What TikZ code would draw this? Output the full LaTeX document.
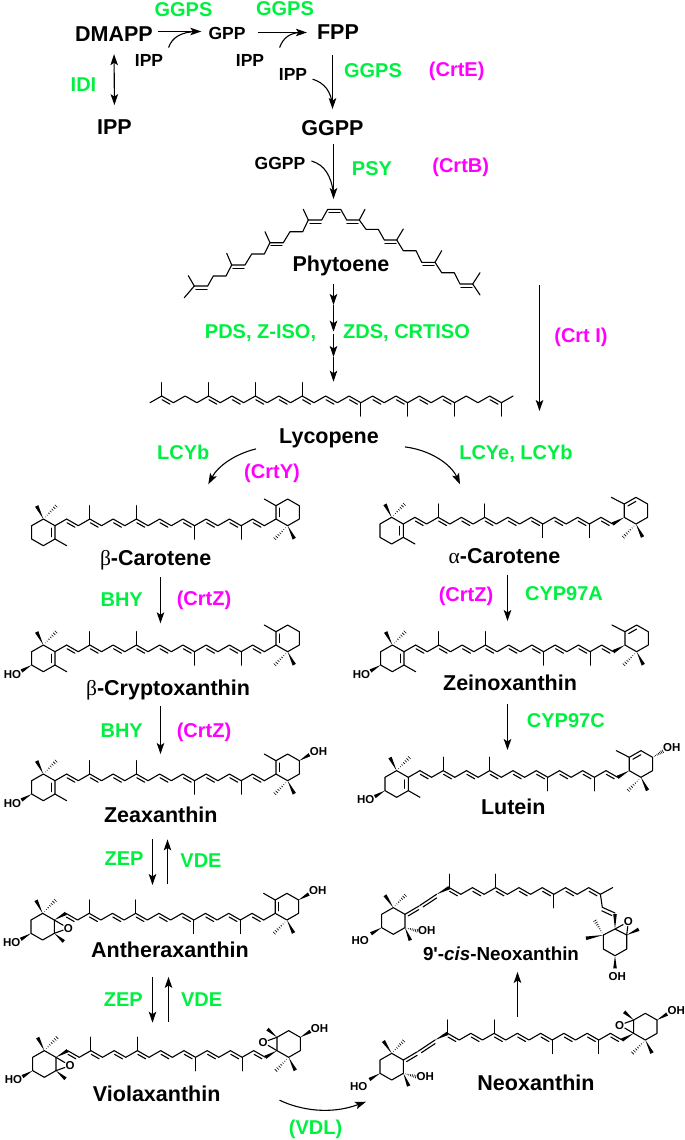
\documentclass[tikz,border=0pt]{standalone}
\usepackage{xcolor}
\usepackage{fontspec}
\usepackage{tikz}
\usetikzlibrary{arrows.meta,positioning,calc}
\setmainfont{Liberation Sans}
\newfontfamily\greekfont{Liberation Serif}
\newfontfamily\primefont{Liberation Sans}
\definecolor{enzgreen}{HTML}{00F040}
\definecolor{crtmagenta}{HTML}{FF00FF}
\newcommand{\zx}{11.63}
\newcommand{\zy}{6.67}
\newcommand{\zigzag}[5]{%
  \draw[bond] ({#1*\zx},{-\zy*mod(#1,2)}) \foreach \i in {#1,...,#2} {-- ({\i*\zx},{-\zy*mod(\i,2)})};
  \foreach \i in {#3} {\ifnum\i<#1\relax\else\draw[bond] ({\i*\zx+.4},{-\zy+3.7}) -- ({(\i+1)*\zx-3.4},1.5);\fi}
  \foreach \i in {#4} {\draw[bond] ({\i*\zx},-\zy) -- ++(0,-13.5);}
  \foreach \i in {#5} {\draw[bond] ({\i*\zx},0) -- ++(0,13.5);}
}
\newcommand{\wedgebond}[4]{%
  \pgfmathsetmacro{\wbl}{veclen((#3)-(#1),(#4)-(#2))}%
  \pgfmathsetmacro{\wbx}{1.8*((#2)-(#4))/\wbl}%
  \pgfmathsetmacro{\wby}{1.8*((#3)-(#1))/\wbl}%
  \fill (#1,#2) -- ({(#3)+\wbx},{(#4)+\wby}) -- ({(#3)-\wbx},{(#4)-\wby}) -- cycle;
}
\newcommand{\hashbond}[4]{%
  \pgfmathsetmacro{\wbl}{veclen((#3)-(#1),(#4)-(#2))}%
  \pgfmathsetmacro{\wbx}{1.8*((#2)-(#4))/\wbl}%
  \pgfmathsetmacro{\wby}{1.8*((#3)-(#1))/\wbl}%
  \foreach \hs in {.16,.3,.44,.58,.72,.86,1} {
    \draw[line width=.6pt] ({(#1)+\hs*((#3)-(#1))+\hs*\wbx},{(#2)+\hs*((#4)-(#2))+\hs*\wby})
      -- ({(#1)+\hs*((#3)-(#1))-\hs*\wbx},{(#2)+\hs*((#4)-(#2))-\hs*\wby});
  }
}
\newcommand{\cyring}{%
  \draw[bond] (0,0) -- (-11.67,-6.67) -- (-23.33,0) -- (-23.33,13.33) -- (-11.67,20) -- (0,13.33) -- cycle;
  \wedgebond{-11.67}{-6.67}{-18.3}{-19.7}
  \hashbond{-11.67}{-6.67}{1}{-19.7}
}
\newcommand{\carot}[4][1]{%
  \begin{scope}[shift={(#2,#3)},scale=#1]
    \pic {polyene=1};
    #4
  \end{scope}
}
\tikzset{
  bond/.style={line width=1.1pt,line join=round,line cap=round},
  rightend/.style={shift={(220.97,-6.67)},rotate=180},
  pics/polyene/.style={code={\zigzag{#1}{18}{1,3,...,17}{3,7}{12,16}}},
  pics/betaring/.style={code={
    \cyring
    \draw[bond] (-3.5,2.5) -- (-3.5,11);
    \draw[bond] (0,13.33) -- (11.67,20);
    \draw[bond] (0,0) -- (11.63,-6.67);
  }},
  pics/epsring/.style={code={
    \cyring
    \draw[bond] (-3.66,11.43) -- (-11.53,15.9);
    \draw[bond] (0,13.33) -- (13,20);
    \wedgebond{0}{0}{11.63}{-6.67}
  }},
  pics/epoxyring/.style={code={
    \cyring
    \wedgebond{0}{0}{11.63}{-6.67}
    \wedgebond{0}{13.33}{9.5}{21.5}
    \node[atomlab] (epo) at (14,8.3) {O};
    \draw[bond] (0,0) -- (epo);
    \draw[bond] (0,13.33) -- (epo);
  }},
  pics/hoend/.style={code={
    \wedgebond{-23.33}{13.33}{-33.5}{19.3}
    \node[atomlab] (oh) at (-42.5,22.5) {#1};
  }},
  pics/hohash/.style={code={
    \hashbond{-23.33}{13.33}{-33.5}{19.3}
    \node[atomlab] (oh) at (-42.5,23) {#1};
  }},
  pics/allenering/.style={code={
    \draw[bond] (-9.33,20) -- (-21,13.33) -- (-32.67,20) -- (-32.67,33.33) -- (-21,40) -- (-9.33,33.33) -- cycle;
    \wedgebond{-21}{13.33}{-29.3}{1}
    \hashbond{-21}{13.33}{-9}{1}
    \wedgebond{-32.67}{33.33}{-43.3}{39.5}
    \node[atomlab] (ho) at (-54,46.5) {HO};
    \wedgebond{-9.33}{33.33}{-4}{46}
    \hashbond{-9.33}{33.33}{3}{36.5}
    \node[atomlab] (oh) at (12.5,36.5) {OH};
    \draw[bond] (-9.33,20) -- (4.7,11.7);
    \draw[bond] (-6.1,21.6) -- (4.5,15.3);
    \draw[bond] (5.5,11.2) -- (22.3,0);
    \draw[bond] (8.8,12.6) -- (22.4,3.6);
    \wedgebond{22.3}{0}{34.89}{-6.67}
  }}
}
\begin{document}
\begin{tikzpicture}[
  x=1pt,y=-1pt,
  cmpd/.style={font=\fontsize{21.5}{24}\selectfont\bfseries,inner sep=1pt,text height=15.4pt,text depth=0pt},
  cofactor/.style={font=\fontsize{17.5}{20}\selectfont\bfseries,inner sep=1pt,text height=12.5pt,text depth=0pt},
  enz/.style={font=\fontsize{20}{24}\selectfont\bfseries,text=enzgreen,inner sep=1pt,text height=14.3pt,text depth=0pt},
  crt/.style={enz,text=crtmagenta},
  atomlab/.style={font=\fontsize{11.5}{14}\selectfont\bfseries,inner sep=.5pt,text height=8.2pt,text depth=0pt},
  arrow/.style={-{Stealth[length=11pt,width=7.5pt,inset=2.5pt]},line width=1.1pt},
  biarrow/.style={{Stealth[length=11pt,width=7.5pt,inset=2.5pt]}-{Stealth[length=11pt,width=7.5pt,inset=2.5pt]},line width=1.1pt},
  joinline/.style={line width=1.1pt}
]
\useasboundingbox (0,0) rectangle (685,1140);

\node[cmpd] (dmapp) at (114,34.3) {DMAPP};
\node[cmpd] (ipp) at (114.5,127) {IPP};
\node[cofactor] (gpp) at (227,33.3) {GPP};
\node[cmpd] (fpp) at (338,32) {FPP};
\node[cmpd] (ggpp) at (332.5,128) {GGPP};
\node[cofactor] (ipp1) at (149,60.5) {IPP};
\node[cofactor] (ipp2) at (250,60.5) {IPP};
\node[cofactor] (ipp3) at (293,74) {IPP};
\node[cofactor] (ggpp2) at (280,163) {GGPP};
\node[cmpd] (phy) at (341,264) {Phytoene};
\node[cmpd] (lyc) at (329,436) {Lycopene};
\node[cmpd] (bcar) at (155.7,558) {{\greekfont\mdseries β}-Carotene};
\node[cmpd] (bcry) at (168,688) {{\greekfont\mdseries β}-Cryptoxanthin};
\node[cmpd] (zea) at (160.8,815) {Zeaxanthin};
\node[cmpd] (anth) at (170,950) {Antheraxanthin};
\node[cmpd] (viol) at (156.7,1094) {Violaxanthin};
\node[cmpd] (acar) at (504.5,555.7) {{\greekfont\mdseries α}-Carotene};
\node[cmpd] (zein) at (510,682.7) {Zeinoxanthin};
\node[cmpd] (lut) at (513.3,806.7) {Lutein};
\node[cmpd,font=\fontsize{18.8}{22}\selectfont\bfseries,text height=13.5pt] (cisneo) at (501,954) {9{\primefont\bfseries '}-\textit{cis}-Neoxanthin};
\node[cmpd] (neo) at (536,1083) {Neoxanthin};

\node[enz] (ggps1) at (183.5,9) {GGPS};
\node[enz] (ggps2) at (285,8.5) {GGPS};
\node[enz] (idi) at (83.5,84.5) {IDI};
\node[enz] (ggps3) at (373,70) {GGPS};
\node[enz] (psy) at (372,168) {PSY};
\node[crt] (crte) at (456.7,69) {(CrtE)};
\node[crt] (crtb) at (460.7,165) {(CrtB)};
\node[enz] (pds) at (260.5,331) {PDS, Z-ISO,};
\node[enz] (zds) at (406.5,331) {ZDS, CRTISO};
\node[crt] (crti) at (581,335) {(Crt I)};
\node[enz] (lcyb) at (183.3,452.3) {LCYb};
\node[crt] (crty) at (272,471.7) {(CrtY)};
\node[enz] (lcye) at (516,452.3) {LCYe, LCYb};
\node[enz] (bhy1) at (121.7,599.3) {BHY};
\node[crt] (crtz1) at (204,598.3) {(CrtZ)};
\node[crt] (crtz2) at (466,594) {(CrtZ)};
\node[enz] (cypa) at (564,593) {CYP97A};
\node[enz] (bhy2) at (121.7,730) {BHY};
\node[crt] (crtz3) at (204,730) {(CrtZ)};
\node[enz] (cypc) at (565.8,720) {CYP97C};
\node[enz] (zep1) at (124,858.3) {ZEP};
\node[enz] (vde1) at (201,860.7) {VDE};
\node[enz] (zep2) at (123.3,999.3) {ZEP};
\node[enz] (vde2) at (201.7,999.3) {VDE};
\node[enz] (vdl) at (315.5,1127.7) {(VDL)};

\draw[bond] (184.3,297.7) -- (194.3,286) -- (188.3,275.7);
\draw[bond] (194.3,286) -- (207.7,286) -- (213.3,276) -- (226,276) -- (231.7,265) -- (245,265) -- (251.7,254) -- (264.3,254)
  -- (270,242.7) -- (283.3,242.7) -- (290,231.7) -- (302.7,231.7) -- (308.3,220) -- (321.7,220) -- (327.7,209.3) -- (340.7,209.3)
  -- (346.7,220) -- (359.3,220) -- (366,229.3) -- (378.3,229.3) -- (384.3,240) -- (396.7,240) -- (403.3,250.7) -- (416,250.7)
  -- (421.7,262.3) -- (435,262.3) -- (441.7,272.7) -- (454.3,272.7) -- (460,284) -- (472.7,284) -- (480,272.7);
\draw[bond] (472.7,284) -- (480,295);
\foreach \a/\b/\c in {196/207/286,233/244/265,271/282/242.7,310/321/220,329/340/209.3,347/358/220,385/396/240,423/434/262.3,461/472/284}
  \draw[bond] (\a,\c+3.2) -- (\b,\c+3.2);
\foreach \a/\b/\c/\d in {231.7/265/226.7/253.3,270/242.7/265/231.7,308.3/220/303.3/209.3,359.3/220/365/209.3,396.7/240/403.3/229,435/262.3/441.7/250.7}
  \draw[bond] (\a,\b) -- (\c,\d);

\begin{scope}[shift={(150,402.7)},xscale=1.007]
  \zigzag{0}{31}{1,5,7,9,11,13,15,17,19,21,23,25,29}{1,5,9,13}{18,22,26,30}
\end{scope}

\carot{55}{525.7}{\pic {betaring}; \pic[rightend] {betaring};}
\carot{55}{651.7}{\pic {betaring}; \pic {hoend=HO}; \pic[rightend] {betaring};}
\carot{55}{780.7}{\pic {betaring}; \pic {hoend=HO}; \pic[rightend] {betaring}; \pic[rightend] {hoend=OH};}
\carot{54.3}{920}{\pic {epoxyring}; \pic {hoend=HO}; \pic[rightend] {betaring}; \pic[rightend] {hoend=OH};}
\carot{56}{1057.3}{\pic {epoxyring}; \pic {hoend=HO}; \pic[rightend] {epoxyring}; \pic[rightend] {hoend=OH};}
\carot[.962]{403.3}{524}{\pic {betaring}; \pic[rightend] {epsring};}
\carot[.962]{404}{651.7}{\pic {betaring}; \pic {hoend=HO}; \pic[rightend] {epsring};}
\carot[.962]{408.3}{777.3}{\pic {betaring}; \pic {hoend=HO}; \pic[rightend] {epsring}; \pic[rightend] {hohash=OH};}

\begin{scope}[shift={(412.7,1040)}]
  \pic {polyene=3};
  \pic {allenering};
  \pic[rightend] {epoxyring};
  \pic[rightend] {hoend=OH};
\end{scope}

\begin{scope}[shift={(414.3,894.3)}]
  \zigzag{3}{16}{3,5,...,15}{3,7}{12}
  \pic {allenering};
  \draw[bond] (186.1,0) -- (198.4,-6.7);
  \draw[bond] (186.1,0) -- (188,13) -- (200.7,18.7);
  \draw[bond] (187.5,16.5) -- (197.5,21.2);
\end{scope}
\draw[bond] (615,929) -- (626.7,935) -- (626.7,949) -- (615,955.7) -- (603.3,949) -- (603.3,935) -- cycle;
\wedgebond{615}{929}{615}{914}
\wedgebond{603.3}{935}{586}{938.3}
\hashbond{603.3}{935}{595}{920.7}
\wedgebond{626.7}{935}{638.7}{929.3}
\wedgebond{615}{955.7}{615}{968.3}
\node[atomlab] (cisoh) at (617.3,976) {OH};
\node[atomlab] (ciso) at (628.3,921.7) {O};
\draw[bond] (615,929) -- (ciso);
\draw[bond] (626.7,935) -- (ciso);

\coordinate (j1) at (197,31.5);
\coordinate (j2) at (302,32.5);
\coordinate (j3) at (332.5,105);
\coordinate (j4) at (333.5,193);
\coordinate (phyin) at (333.5,199);
\coordinate (ci0) at (539.5,285);
\coordinate (ci1) at (539.5,411);
\coordinate (bcarin) at (208.3,484.3);
\coordinate (acarin) at (460,484.3);
\coordinate (bcryin) at (160.5,623.3);
\coordinate (zeain) at (160.5,754);
\coordinate (anthin) at (152.5,885);
\coordinate (anthout) at (167.5,884.3);
\coordinate (violin) at (152.5,1022.7);
\coordinate (violout) at (168.5,1021.7);
\coordinate (zeinin) at (507.5,621);
\coordinate (lutin) at (507.5,750);
\coordinate (neoout) at (517.5,1016.7);
\coordinate (neoin) at (366,1101.7);
\foreach \i/\y in {1/305,2/331.7,3/357,4/381.7}
  \coordinate (s\i) at (333.5,\y);

\draw[arrow,shorten <=4pt,shorten >=6pt] (dmapp.east |- j1) -- (gpp.west |- j1);
\draw[arrow,shorten <=11pt,shorten >=9pt] (gpp.east |- j2) -- (fpp.west |- j2);
\draw[biarrow,shorten <=11pt,shorten >=13pt] (dmapp.south) -- (ipp.north);
\draw[arrow,shorten <=14pt,shorten >=10pt] (fpp.south -| j3) -- (ggpp.north -| j3);
\draw[arrow,shorten <=7pt] (ggpp.south -| j4) -- (phyin);
\draw[joinline] ([shift={(4.3,-5.5)}]ipp1.north east) .. controls (172,37) and (182,31.7) .. (j1);
\draw[joinline] ([shift={(14.3,-5.5)}]ipp2.north east) .. controls (283,38) and (290,32.3) .. (j2);
\draw[joinline] ([shift={(4.3,12.6)}]ipp3.north east) .. controls (325,83) and (331,92) .. (j3);
\draw[joinline] ([shift={(5,-2)}]ggpp2.east) .. controls (325,165) and (331,176) .. (j4);
\draw[arrow,shorten <=11pt] (phy.south -| s1) -- (s1);
\draw[arrow] (s1) -- (s2);
\draw[arrow] ([yshift=-2.5pt]s2) -- (s3);
\draw[arrow] (s3) -- (s4);
\draw[arrow] (ci0) -- (ci1);
\draw[arrow] ([shift={(-22,4)}]lyc.south west) .. controls (235,454) and (218,466) .. (bcarin);
\draw[arrow] ([shift={(25,2)}]lyc.south east) .. controls (430,450) and (451,464) .. (acarin);
\draw[arrow,shorten <=10.5pt] (bcar.south -| bcryin) -- (bcryin);
\draw[arrow,shorten <=9pt] (bcry.south -| zeain) -- (zeain);
\draw[arrow,shorten <=15.5pt] (zea.south -| anthin) -- (anthin);
\draw[arrow,shorten >=15.5pt] (anthout) -- (zea.south -| anthout);
\draw[arrow,shorten <=18pt] (anth.south -| violin) -- (violin);
\draw[arrow,shorten >=18pt] (violout) -- (anth.south -| violout);
\draw[arrow,shorten <=10pt] (acar.south -| zeinin) -- (zeinin);
\draw[arrow,shorten <=12pt] (zein.south -| lutin) -- (lutin);
\draw[arrow,shorten >=10pt] (neoout) -- (cisneo.south -| neoout);
\draw[arrow] ([shift={(58,-2.7)}]viol.south east) .. controls (300,1110) and (330,1115) .. (neoin);
\end{tikzpicture}
\end{document}
